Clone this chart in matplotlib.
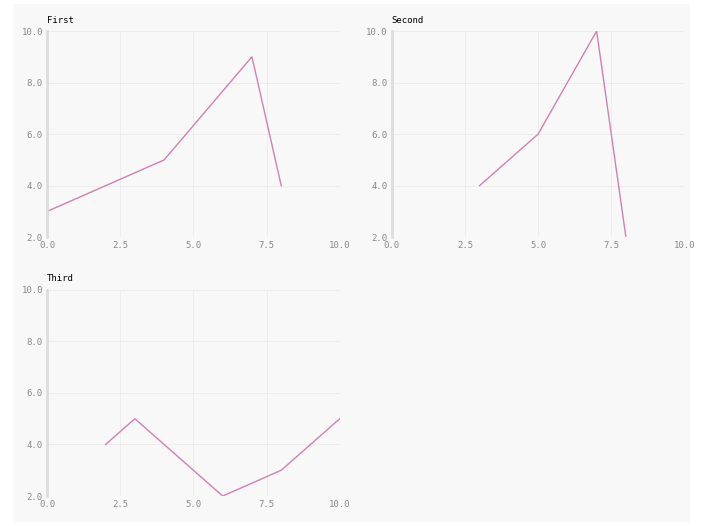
import matplotlib
matplotlib.use("Agg")
import matplotlib.pyplot as plt
from matplotlib.patches import Rectangle

plt.rcParams['font.family'] = 'DejaVu Sans Mono'

titles = ["First", "Second", "Third"]
x_first = [0, 4, 7, 8]
y_first = [3, 5, 9, 4]
x_second = [3, 5, 7, 8]
y_second = [4, 6, 10, 2]
x_third = [2, 3, 6, 8, 10]
y_third = [4, 5, 2, 3, 5]
xticks = [0.0, 2.5, 5.0, 7.5, 10.0]
yticks = [2.0, 4.0, 6.0, 8.0, 10.0]

LINE = '#d47fb4'
BG = '#f8f8f8'

fig = plt.figure(figsize=(7.02, 5.26), dpi=100)
fig.patch.set_facecolor('white')
fig.patches.append(Rectangle((13 / 702, 4 / 526), 677 / 702, 518 / 526,
                             transform=fig.transFigure, facecolor=BG,
                             edgecolor='none', zorder=-10))

rects = [[0.067, 0.549, 0.417, 0.392],
         [0.558, 0.549, 0.417, 0.392],
         [0.067, 0.057, 0.417, 0.392]]
data = [(x_first, y_first), (x_second, y_second), (x_third, y_third)]

for rect, title, (xs, ys) in zip(rects, titles, data):
    ax = fig.add_axes(rect)
    ax.set_zorder(1)
    ax.set_facecolor(BG)
    ax.plot(xs, ys, color=LINE, linewidth=1)
    ax.set_xlim(0, 10)
    ax.set_ylim(2, 10)
    ax.set_xticks(xticks)
    ax.set_yticks(yticks)
    ax.set_xticklabels([f"{v:.1f}" for v in xticks])
    ax.set_yticklabels([f"{v:.1f}" for v in yticks])
    ax.tick_params(length=0, labelsize=6.5, colors='#888888', pad=3)
    ax.grid(True, color='#ececec', linewidth=0.6)
    ax.set_axisbelow(True)
    for s in ['top', 'right', 'bottom']:
        ax.spines[s].set_visible(False)
    ax.spines['left'].set_color('#dddddd')
    ax.spines['left'].set_linewidth(2)
    ax.set_title(title, loc='left', fontsize=6.5, pad=6)

fig.savefig('out.png', dpi=100)
